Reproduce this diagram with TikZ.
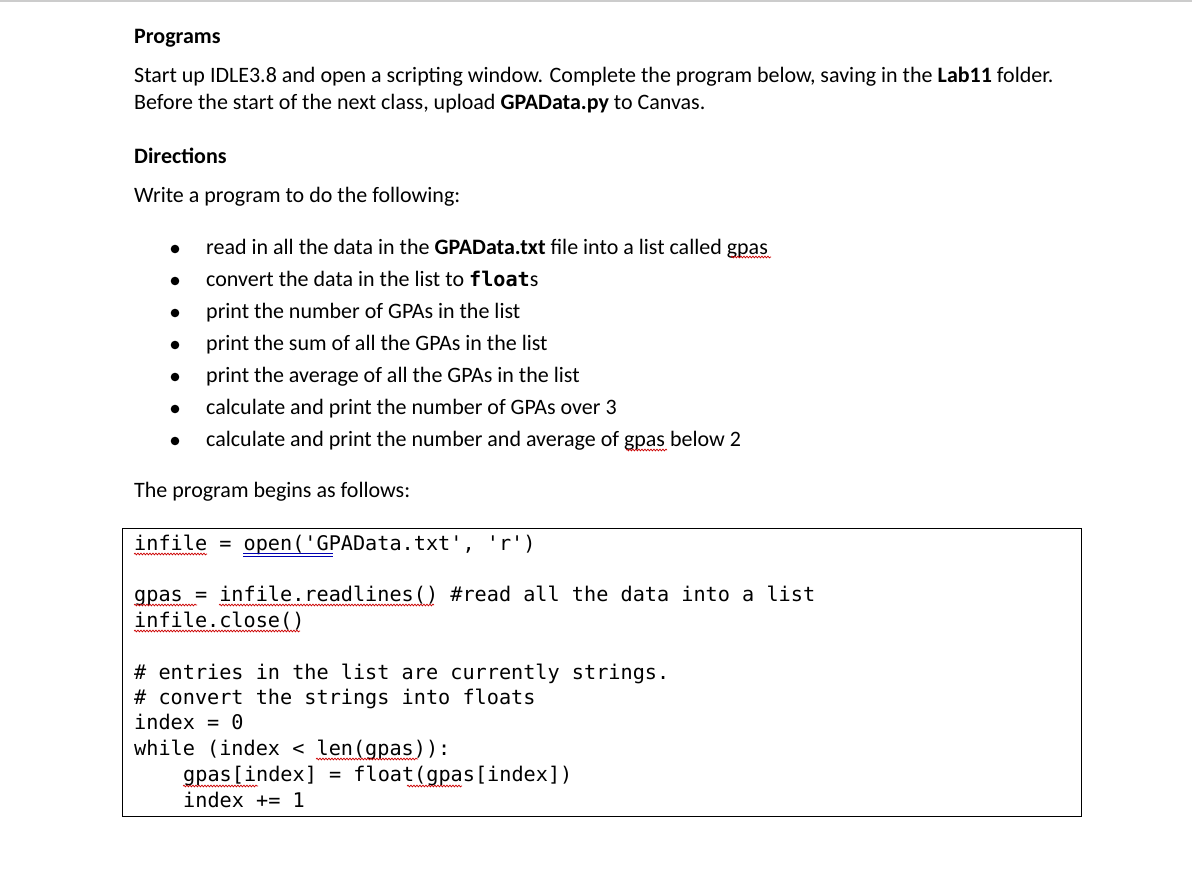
\documentclass[tikz,border=0pt]{standalone}
\usepackage{fontspec}
\setmainfont{Carlito}
\setmonofont{DejaVu Sans Mono}
\usetikzlibrary{decorations.pathmorphing}
\begin{document}
\begin{tikzpicture}[x=1pt,y=-1pt,
  txt/.style={anchor=mid west,inner sep=0pt,font=\fontsize{22}{26}\selectfont},
  code/.style={anchor=mid west,inner sep=0pt,font=\fontsize{20.2}{24}\ttfamily},
  sq/.style={draw=red!80!black,line width=0.7pt,decorate,decoration={snake,amplitude=0.9pt,segment length=3pt}},
  bsq/.style={draw=blue!70!black,line width=0.6pt}]
\useasboundingbox (0,0) rectangle (1192,879);
\draw[gray!40,line width=2pt] (0,1) -- (1192,1);
\begin{scope}[yshift=-4pt]
\node[txt] (h1) at (134,37) {\textbf{Programs}};
\node[txt] (p1) at (134,76) {Start up IDLE3.8 and open a scripting window. Complete the program below, saving in the \textbf{Lab11} folder.};
\node[txt] (p2) at (134,103) {Before the start of the next class, upload \textbf{GPAData.py} to Canvas.};
\node[txt] (h2) at (134,157) {\textbf{Directions}};
\node[txt] (p3) at (134,196) {Write a program to do the following:};
\foreach \y/\t [count=\i] in {248/{read in all the data in the \textbf{GPAData.txt} file into a list called gpas},
  280/{convert the data in the list to {\fontsize{20.2}{24}\ttfamily\bfseries float}s},
  312/{print the number of GPAs in the list},
  344/{print the sum of all the GPAs in the list},
  376/{print the average of all the GPAs in the list},
  408/{calculate and print the number of GPAs over 3},
  440/{calculate and print the number and average of gpas below 2}}{
  \node[txt] (b\i) at (206,\y) {\t};
}
\node[txt] (p4) at (134,491) {The program begins as follows:};
\node[code] (c1) at (134,544) {infile = open('GPAData.txt', 'r')};
\node[code] (c2) at (134,595) {gpas = infile.readlines() \#read all the data into a list};
\node[code] (c3) at (134,621) {infile.close()};
\node[code] (c4) at (134,673) {\# entries in the list are currently strings.};
\node[code] (c5) at (134,698) {\# convert the strings into floats};
\node[code] (c6) at (134,723) {index = 0};
\node[code] (c7) at (134,749) {while (index < len(gpas)):};
\node[code] (c8) at (183,775) {gpas[index] = float(gpas[index])};
\node[code] (c9) at (183,801) {index += 1};
\end{scope}
\foreach \y in {248,280,312,344,376,408,440} \fill (175,\y+1) circle (4.3);
\draw[line width=0.8pt] (122,528) rectangle (1081,816);
% spell-check marks
\draw[sq] (731,257) -- (771,257);
\draw[sq] (626,450) -- (667,450);
\draw[sq] (134,554) -- (207,554);
\draw[bsq] (243,553) -- (333,553); \draw[bsq] (243,556) -- (333,556);
\draw[sq] (134,605) -- (197,605);
\draw[sq] (219,605) -- (434,605);
\draw[sq] (134,631) -- (300,631);
\draw[sq] (316,759) -- (418,759);
\draw[sq] (183,786) -- (258,786);
\draw[sq] (407,786) -- (462,786);
\end{tikzpicture}
\end{document}
